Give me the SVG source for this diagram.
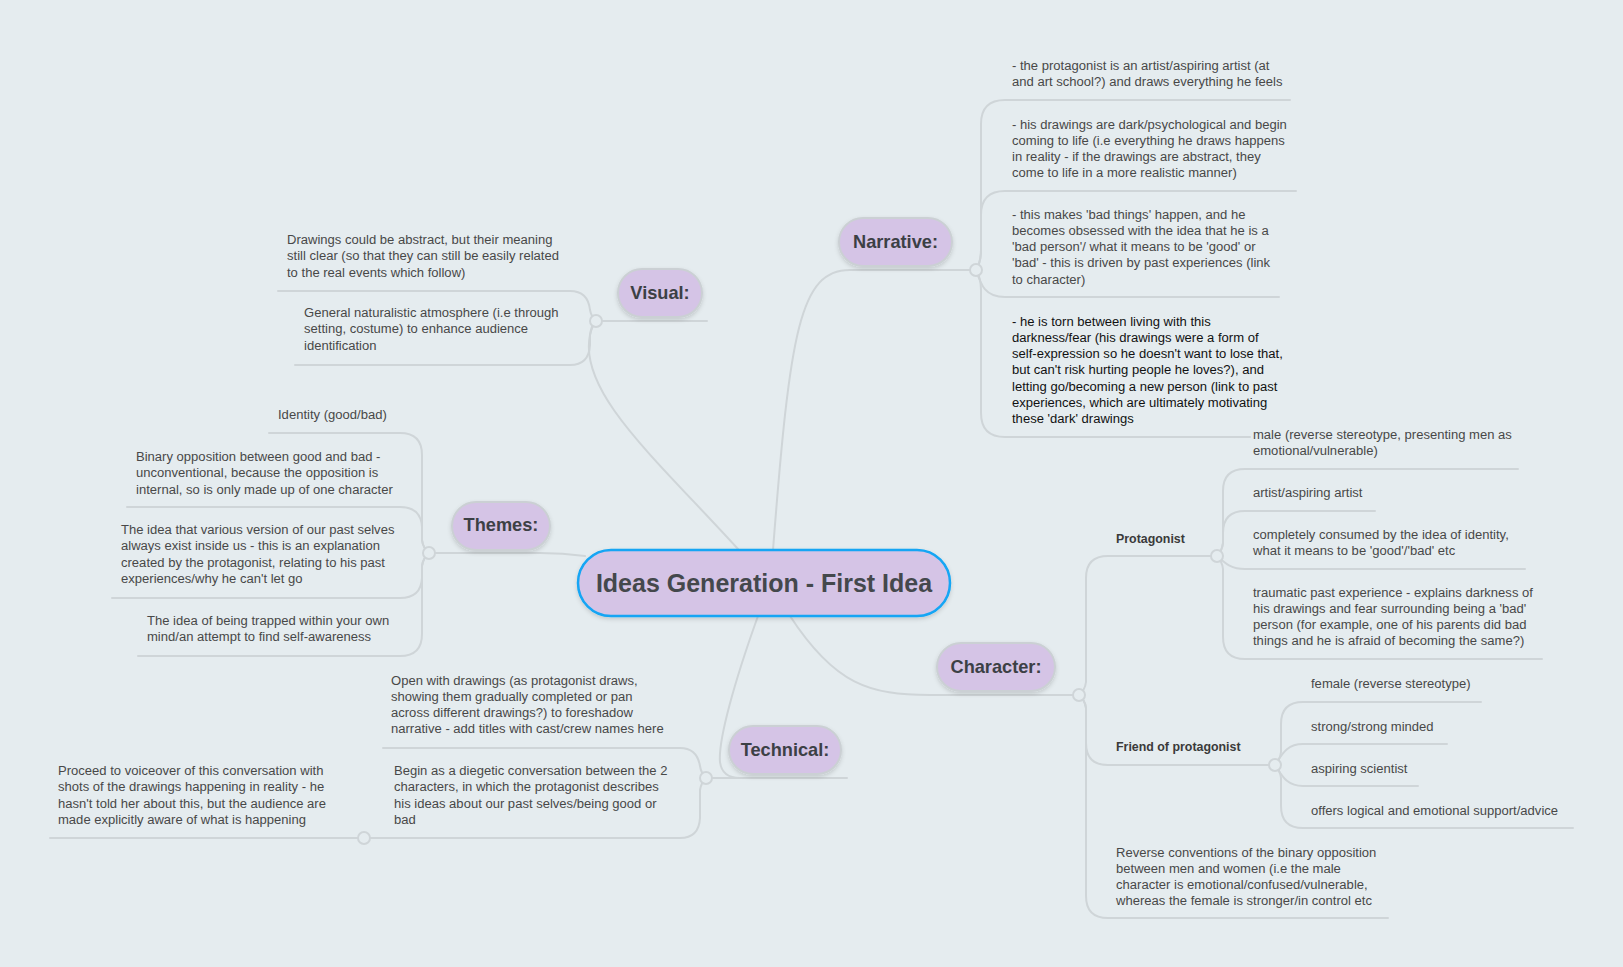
<svg xmlns="http://www.w3.org/2000/svg" width="1623" height="967" viewBox="0 0 1623 967">
<defs>
<filter id="sh" x="-20%" y="-30%" width="140%" height="170%">
<feDropShadow dx="0" dy="2" stdDeviation="2" flood-color="#000" flood-opacity="0.15"/>
</filter>
<style>
.ln{fill:none;stroke:#cfd5d8;stroke-width:2;stroke-linecap:round}
.jn{fill:#e5ecef;stroke:#cfd5d8;stroke-width:2}
.pill{fill:#d5c4e6;stroke:#cbd0d4;stroke-width:2;filter:url(#sh)}
.main{fill:#d5c4e6;stroke:#12a5f4;stroke-width:2.5;filter:url(#sh)}
.tp{font-family:"Liberation Sans",Arial,sans-serif;font-weight:bold;font-size:18.2px;fill:#3c4045;text-anchor:middle}
.ct{font-family:"Liberation Sans",Arial,sans-serif;font-weight:bold;font-size:25px;fill:#44484c;text-anchor:middle}
.lf{font-family:"Liberation Sans",Arial,sans-serif;font-size:13.05px;fill:#484848}
.dk{fill:#111}
.sb{font-family:"Liberation Sans",Arial,sans-serif;font-weight:bold;font-size:12.4px;fill:#3a3a3a}
</style>
</defs>
<rect width="1623" height="967" fill="#e5ecef"/>

<g id="connectors">
<path class="ln" d="M773 550 C790 330 800 270 850 270 L976 270"/>
<path class="ln" d="M738 549 C655 458 578 392 590 335 Q592 326 596 321 L707 321"/>
<path class="ln" d="M585 556 C570 554 560 553 540 553 L429 553"/>
<path class="ln" d="M790 616 C835 685 870 695 930 695 L1079 695"/>
<path class="ln" d="M758 616 C735 680 718 740 720 762 Q722 778 740 778 L847 778 M706 778 L740 778"/>
<path class="ln" d="M976 270 Q981 262 981 250 L981 124 Q981 100 1005 100 L1290 100"/>
<path class="ln" d="M976 270 Q981 262 981 250 L981 215 Q981 191 1005 191 L1296 191"/>
<path class="ln" d="M976 270 C981 285 985 297 1005 297 L1279 297"/>
<path class="ln" d="M976 270 Q981 278 981 290 L981 413 Q981 437 1005 437 L1250 437"/>
<path class="ln" d="M596 321 Q591 316 590 310 Q588 291 570 291 L278 291"/>
<path class="ln" d="M596 321 Q591 326 590 335 L590 345 Q589 365 570 365 L295 365"/>
<path class="ln" d="M429 553 Q423 548 422 540 L422 455 Q422 433 400 433 L269 433"/>
<path class="ln" d="M429 553 Q423 548 422 540 L422 527 Q421 507 400 507 L127 507"/>
<path class="ln" d="M429 553 Q423 558 422 566 L422 578 Q421 598 400 598 L112 598"/>
<path class="ln" d="M429 553 Q423 558 422 566 L422 634 Q422 656 400 656 L138 656"/>
<path class="ln" d="M706 778 Q701 773 700 766 Q697 748 680 748 L383 748"/>
<path class="ln" d="M706 778 Q701 783 700 790 L700 818 Q699 838 680 838 L364 838"/>
<path class="ln" d="M364 838 L50 838"/>
<path class="ln" d="M1079 695 Q1085 690 1086 682 L1086 578 Q1086 556 1108 556 L1217 556"/>
<path class="ln" d="M1079 695 Q1085 700 1086 708 L1086 743 Q1086 765 1108 765 L1275 765"/>
<path class="ln" d="M1079 695 Q1085 700 1086 708 L1086 896 Q1086 918 1108 918 L1388 918"/>
<path class="ln" d="M1217 556 Q1222 551 1223 543 L1223 491 Q1223 469 1245 469 L1518 469"/>
<path class="ln" d="M1217 556 Q1222 551 1223 543 L1223 533 Q1223 511 1245 511 L1375 511"/>
<path class="ln" d="M1217 556 C1224 562 1230 569 1245 569 L1525 569"/>
<path class="ln" d="M1217 556 Q1222 561 1223 569 L1223 637 Q1223 659 1245 659 L1542 659"/>
<path class="ln" d="M1275 765 Q1280 760 1281 752 L1281 724 Q1281 702 1303 702 L1481 702"/>
<path class="ln" d="M1275 765 C1281 757 1285 744 1303 744 L1447 744"/>
<path class="ln" d="M1275 765 C1281 773 1285 786 1303 786 L1418 786"/>
<path class="ln" d="M1275 765 Q1280 770 1281 778 L1281 806 Q1281 828 1303 828 L1573 828"/>
<circle class="jn" cx="976" cy="270" r="6"/>
<circle class="jn" cx="596" cy="321" r="6"/>
<circle class="jn" cx="429" cy="553" r="6"/>
<circle class="jn" cx="1079" cy="695" r="6"/>
<circle class="jn" cx="706" cy="778" r="6"/>
<circle class="jn" cx="364" cy="838" r="6"/>
<circle class="jn" cx="1217" cy="556" r="6"/>
<circle class="jn" cx="1275" cy="765" r="6"/>
</g>

<g id="central">
<rect class="main" x="578" y="550" width="372" height="66" rx="33"/>
<text class="ct" x="764" y="592">Ideas Generation - First Idea</text>
</g>

<g id="narrative">
<rect class="pill" x="839" y="218" width="113" height="48" rx="24"/>
<text class="tp" x="895.5" y="248">Narrative:</text>
</g>
<g id="visual">
<rect class="pill" x="618" y="269" width="84" height="48" rx="24"/>
<text class="tp" x="660" y="299">Visual:</text>
</g>
<g id="themes">
<rect class="pill" x="452" y="502" width="98" height="48" rx="24"/>
<text class="tp" x="501" y="531">Themes:</text>
</g>
<g id="character">
<rect class="pill" x="937" y="643" width="118" height="48" rx="24"/>
<text class="tp" x="996" y="673">Character:</text>
</g>
<g id="technical">
<rect class="pill" x="729" y="726" width="112" height="48" rx="24"/>
<text class="tp" x="785" y="756">Technical:</text>
</g>

<g id="narrative-1"><text class="lf" x="1012" y="69.5"><tspan x="1012">- the protagonist is an artist/aspiring artist (at</tspan><tspan x="1012" dy="16.3">and art school?) and draws everything he feels</tspan></text></g>
<g id="narrative-2"><text class="lf" x="1012" y="128.5"><tspan x="1012">- his drawings are dark/psychological and begin</tspan><tspan x="1012" dy="16.3">coming to life (i.e everything he draws happens</tspan><tspan x="1012" dy="16.3">in reality - if the drawings are abstract, they</tspan><tspan x="1012" dy="16.3">come to life in a more realistic manner)</tspan></text></g>
<g id="narrative-3"><text class="lf" x="1012" y="218.5"><tspan x="1012">- this makes 'bad things' happen, and he</tspan><tspan x="1012" dy="16.3">becomes obsessed with the idea that he is a</tspan><tspan x="1012" dy="16.3">'bad person'/ what it means to be 'good' or</tspan><tspan x="1012" dy="16.3">'bad' - this is driven by past experiences (link</tspan><tspan x="1012" dy="16.3">to character)</tspan></text></g>
<g id="narrative-4"><text class="lf dk" x="1012" y="325.5"><tspan x="1012">- he is torn between living with this</tspan><tspan x="1012" dy="16.3">darkness/fear (his drawings were a form of</tspan><tspan x="1012" dy="16.3">self-expression so he doesn't want to lose that,</tspan><tspan x="1012" dy="16.3">but can't risk hurting people he loves?), and</tspan><tspan x="1012" dy="16.3">letting go/becoming a new person (link to past</tspan><tspan x="1012" dy="16.3">experiences, which are ultimately motivating</tspan><tspan x="1012" dy="16.3">these 'dark' drawings</tspan></text></g>

<g id="visual-1"><text class="lf" x="287" y="244"><tspan x="287">Drawings could be abstract, but their meaning</tspan><tspan x="287" dy="16.3">still clear (so that they can still be easily related</tspan><tspan x="287" dy="16.3">to the real events which follow)</tspan></text></g>
<g id="visual-2"><text class="lf" x="304" y="317"><tspan x="304">General naturalistic atmosphere (i.e through</tspan><tspan x="304" dy="16.3">setting, costume) to enhance audience</tspan><tspan x="304" dy="16.3">identification</tspan></text></g>

<g id="themes-1"><text class="lf" x="278" y="418.5">Identity (good/bad)</text></g>
<g id="themes-2"><text class="lf" x="136" y="461"><tspan x="136">Binary opposition between good and bad -</tspan><tspan x="136" dy="16.3">unconventional, because the opposition is</tspan><tspan x="136" dy="16.3">internal, so is only made up of one character</tspan></text></g>
<g id="themes-3"><text class="lf" x="121" y="534"><tspan x="121">The idea that various version of our past selves</tspan><tspan x="121" dy="16.3">always exist inside us - this is an explanation</tspan><tspan x="121" dy="16.3">created by the protagonist, relating to his past</tspan><tspan x="121" dy="16.3">experiences/why he can't let go</tspan></text></g>
<g id="themes-4"><text class="lf" x="147" y="624.5"><tspan x="147">The idea of being trapped within your own</tspan><tspan x="147" dy="16.3">mind/an attempt to find self-awareness</tspan></text></g>

<g id="technical-1"><text class="lf" x="391" y="684.5"><tspan x="391">Open with drawings (as protagonist draws,</tspan><tspan x="391" dy="16.3">showing them gradually completed or pan</tspan><tspan x="391" dy="16.3">across different drawings?) to foreshadow</tspan><tspan x="391" dy="16.3">narrative - add titles with cast/crew names here</tspan></text></g>
<g id="technical-2"><text class="lf" x="394" y="775"><tspan x="394">Begin as a diegetic conversation between the 2</tspan><tspan x="394" dy="16.3">characters, in which the protagonist describes</tspan><tspan x="394" dy="16.3">his ideas about our past selves/being good or</tspan><tspan x="394" dy="16.3">bad</tspan></text></g>
<g id="technical-2-1"><text class="lf" x="58" y="775"><tspan x="58">Proceed to voiceover of this conversation with</tspan><tspan x="58" dy="16.3">shots of the drawings happening in reality - he</tspan><tspan x="58" dy="16.3">hasn't told her about this, but the audience are</tspan><tspan x="58" dy="16.3">made explicitly aware of what is happening</tspan></text></g>

<g id="protagonist"><text class="sb" x="1116" y="543">Protagonist</text></g>
<g id="protagonist-1"><text class="lf" x="1253" y="439"><tspan x="1253">male (reverse stereotype, presenting men as</tspan><tspan x="1253" dy="16.3">emotional/vulnerable)</tspan></text></g>
<g id="protagonist-2"><text class="lf" x="1253" y="496.5">artist/aspiring artist</text></g>
<g id="protagonist-3"><text class="lf" x="1253" y="538.5"><tspan x="1253">completely consumed by the idea of identity,</tspan><tspan x="1253" dy="16.3">what it means to be 'good'/'bad' etc</tspan></text></g>
<g id="protagonist-4"><text class="lf" x="1253" y="596.5"><tspan x="1253">traumatic past experience - explains darkness of</tspan><tspan x="1253" dy="16.3">his drawings and fear surrounding being a 'bad'</tspan><tspan x="1253" dy="16.3">person (for example, one of his parents did bad</tspan><tspan x="1253" dy="16.3">things and he is afraid of becoming the same?)</tspan></text></g>

<g id="friend"><text class="sb" x="1116" y="751">Friend of protagonist</text></g>
<g id="friend-1"><text class="lf" x="1311" y="688">female (reverse stereotype)</text></g>
<g id="friend-2"><text class="lf" x="1311" y="730.5">strong/strong minded</text></g>
<g id="friend-3"><text class="lf" x="1311" y="772.5">aspiring scientist</text></g>
<g id="friend-4"><text class="lf" x="1311" y="814.5">offers logical and emotional support/advice</text></g>

<g id="character-3"><text class="lf" x="1116" y="856.5"><tspan x="1116">Reverse conventions of the binary opposition</tspan><tspan x="1116" dy="16.3">between men and women (i.e the male</tspan><tspan x="1116" dy="16.3">character is emotional/confused/vulnerable,</tspan><tspan x="1116" dy="16.3">whereas the female is stronger/in control etc</tspan></text></g>
</svg>
